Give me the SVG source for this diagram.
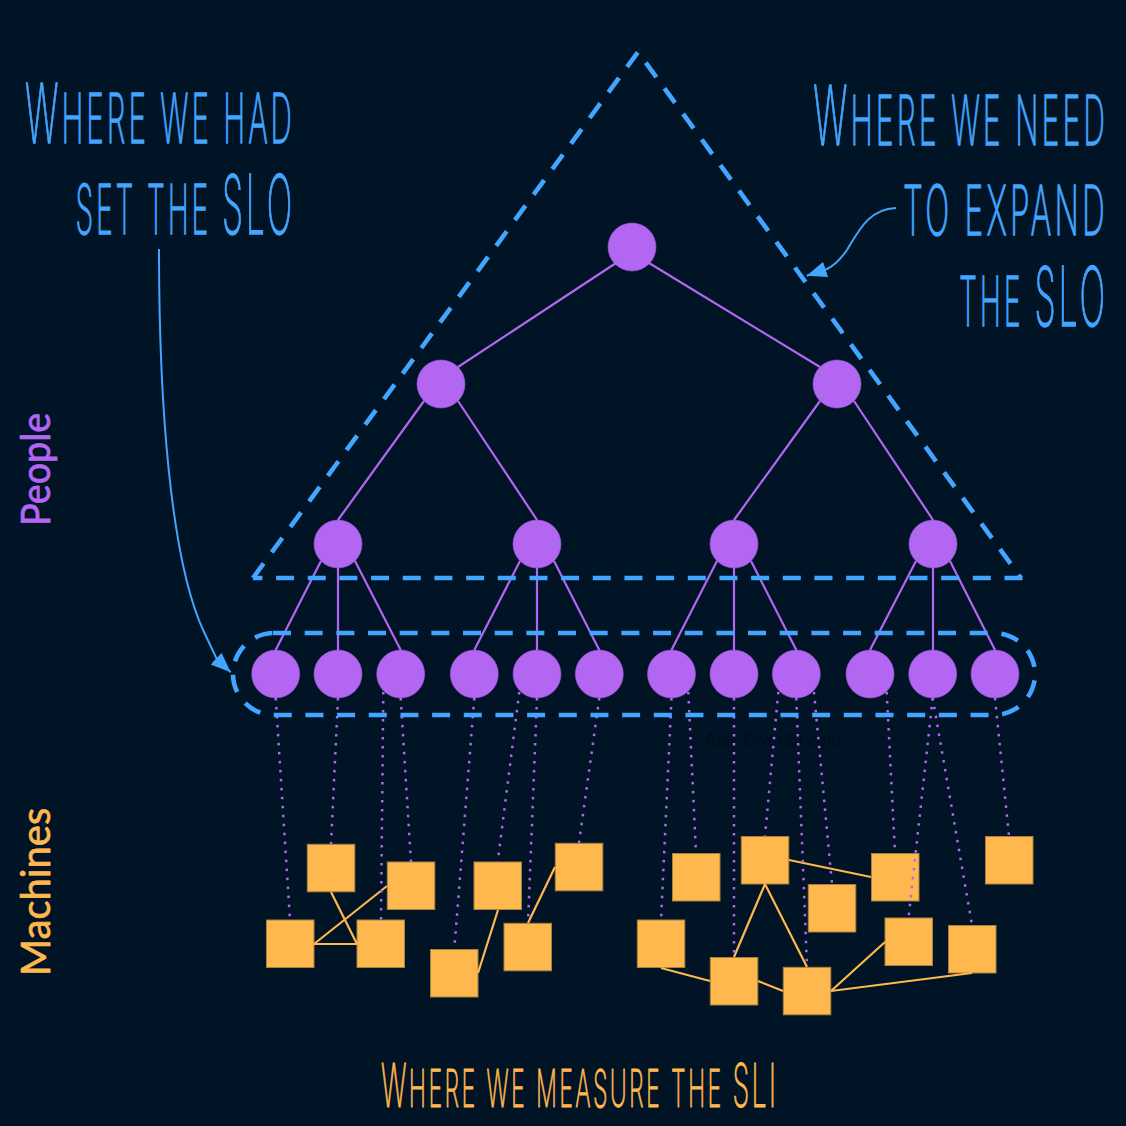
<svg xmlns="http://www.w3.org/2000/svg" width="1126" height="1126" viewBox="0 0 1126 1126">
<style>
.person{fill:#b266f2;stroke:#9a58d4;stroke-width:.6}
.machine{fill:#ffb84d;stroke:#a5823f;stroke-width:1}
.tree{stroke:#b266f2;stroke-width:2.2;fill:none}
.link{stroke:#ffb84d;stroke-width:2.2;fill:none}
.dot{stroke:#b266f2;stroke-width:2.5;stroke-dasharray:2.5 6.5;fill:none}
.dash{stroke:#42a5ff;stroke-width:4.6;stroke-dasharray:18 13.67;fill:none;stroke-linejoin:round}
.pointer{stroke:#42a5ff;stroke-width:2;fill:none;marker-end:url(#head)}
.hand{font-family:"Inter","Liberation Sans",sans-serif;font-weight:200;text-transform:uppercase;letter-spacing:.1em;stroke-width:1.3}
.big{font-size:82px}
.small{font-size:69px}
.goldsize{font-size:52px}
.goldbig{font-size:60px}
.blue{fill:#42a5ff;stroke:#42a5ff}
.gold{fill:#ffb84d;stroke:#ffb84d}
.side{font-family:"Lato","Liberation Sans",sans-serif;font-size:40px;stroke-width:.7}
</style>
<defs>
<marker id="head" markerUnits="userSpaceOnUse" markerWidth="21" markerHeight="17" refX="20" refY="8" orient="auto"><path d="M0,0L20,8L0,16Z" fill="#42a5ff"/></marker>
</defs>
<rect id="background" width="1126" height="1126" fill="#011426"/>
<text id="watermark" x="704" y="746" font-family="Lato,'Liberation Sans',sans-serif" font-size="18" fill="#000d1c">Alex Ewerlöf.com</text>

<g id="nodes-people">
<circle id="p1" class="person" cx="632" cy="247" r="24"/>
<circle id="p2" class="person" cx="441" cy="384" r="24"/>
<circle id="p3" class="person" cx="837" cy="384" r="24"/>
<circle id="p4" class="person" cx="338" cy="544" r="24"/>
<circle id="p5" class="person" cx="537" cy="544" r="24"/>
<circle id="p6" class="person" cx="734" cy="544" r="24"/>
<circle id="p7" class="person" cx="933" cy="544" r="24"/>
<circle id="p8" class="person" cx="275.7" cy="674" r="24"/>
<circle id="p9" class="person" cx="338" cy="674" r="24"/>
<circle id="p10" class="person" cx="400.7" cy="674" r="24"/>
<circle id="p11" class="person" cx="474.3" cy="674" r="24"/>
<circle id="p12" class="person" cx="537" cy="674" r="24"/>
<circle id="p13" class="person" cx="599.3" cy="674" r="24"/>
<circle id="p14" class="person" cx="671.5" cy="674" r="24"/>
<circle id="p15" class="person" cx="734" cy="674" r="24"/>
<circle id="p16" class="person" cx="796.3" cy="674" r="24"/>
<circle id="p17" class="person" cx="870" cy="674" r="24"/>
<circle id="p18" class="person" cx="932.7" cy="674" r="24"/>
<circle id="p19" class="person" cx="995" cy="674" r="24"/>
</g>

<g id="nodes-machines">
<rect id="m1" class="machine" x="266.5" y="920" width="47.5" height="47.5"/>
<rect id="m2" class="machine" x="307.3" y="844.3" width="47.5" height="47.5"/>
<rect id="m3" class="machine" x="387.3" y="862" width="47.5" height="47.5"/>
<rect id="m4" class="machine" x="357" y="920" width="47.5" height="47.5"/>
<rect id="m5" class="machine" x="430.5" y="949.5" width="47.5" height="47.5"/>
<rect id="m6" class="machine" x="474" y="862" width="47.5" height="47.5"/>
<rect id="m7" class="machine" x="504" y="923.3" width="47.5" height="47.5"/>
<rect id="m8" class="machine" x="555.3" y="843.3" width="47.5" height="47.5"/>
<rect id="m9" class="machine" x="637.3" y="920" width="47.5" height="47.5"/>
<rect id="m10" class="machine" x="672.5" y="853.5" width="47.5" height="47.5"/>
<rect id="m11" class="machine" x="741.3" y="836.5" width="47.5" height="47.5"/>
<rect id="m12" class="machine" x="710.3" y="957.5" width="47.5" height="47.5"/>
<rect id="m13" class="machine" x="783.3" y="967.3" width="47.5" height="47.5"/>
<rect id="m14" class="machine" x="808.3" y="884.5" width="47.5" height="47.5"/>
<rect id="m15" class="machine" x="871.5" y="853.5" width="47.5" height="47.5"/>
<rect id="m16" class="machine" x="885" y="918" width="47.5" height="47.5"/>
<rect id="m17" class="machine" x="948.5" y="925.5" width="47.5" height="47.5"/>
<rect id="m18" class="machine" x="985.5" y="836.5" width="47.5" height="47.5"/>
</g>

<g id="connectors">
<path class="tree" d="M616,263L458,367M649,263L820,367M424,401L338,520M458,401L537,520M820,401L734,520M854,401L933,520"/>
<path class="tree" d="M321,561L275.7,650M338,568V650M355,561L400.7,650M520,561L474.3,650M537,568V650M554,561L599.3,650M717,561L671.5,650M734,568V650M751,561L796.3,650M916,561L870,650M933,568V650M950,561L995,650"/>
<path class="link" d="M314,944L387,886M314,944H357M331,892L357,944M478,973L498,910M528,923L555,867M661,968L710,981M758,981L783,991M734,957L765,884L807,967M789,860L871,877M831,991L885,942M831,991L972,973"/>
<g class="dot">
<path d="M275.7,698L290,920"/>
<path d="M338,698L331,844"/>
<path d="M383.3,692L381,920"/>
<path d="M400.7,698L411,862"/>
<path d="M474.3,698L454.3,949"/>
<path d="M519.3,692L497.7,862"/>
<path d="M537,698L528,923"/>
<path d="M599.3,698L579,843"/>
<path d="M671.5,698L661,920"/>
<path d="M688.3,692L696,853"/>
<path d="M734,698V957"/>
<path d="M778.3,692L765,836"/>
<path d="M796.3,698L807,967"/>
<path d="M814,692L832,884"/>
<path d="M886.7,692L895,853"/>
<path d="M932.7,698L908.5,918"/>
<path d="M932.7,698L972,925"/>
<path d="M995,698L1009,836"/>
</g>
<path id="slo-triangle-sides" class="dash" d="M253,578L638,52L1021,578"/>
<path id="slo-triangle-base" class="dash" d="M1022.5,578H253"/>
<path id="sli-capsule" class="dash" d="M273,633H994A41,41 0 0 1 994,715H274A41,41 0 0 1 274,633"/>
<path id="pointer-left" class="pointer" d="M159,249C159,400 170,560 204,632L217,659.5L230.7,672.3"/>
<path id="pointer-right" class="pointer" d="M896,208C870,209 860,228 847,250C840,260 835,265 827,269L806.7,275.7"/>
</g>

<g id="labels">
<text class="hand blue small" transform="translate(25,143) scale(.431,1)"><tspan class="big">W</tspan>here we had</text>
<text class="hand blue small" text-anchor="end" transform="translate(295,234) scale(.412,1)">set the <tspan class="big">SLO</tspan></text>
<text class="hand blue small" text-anchor="end" transform="translate(1108,145) scale(.439,1)"><tspan class="big">W</tspan>here we need</text>
<text class="hand blue small" text-anchor="end" transform="translate(1108,235) scale(.461,1)">to expand</text>
<text class="hand blue small" text-anchor="end" transform="translate(1108,326) scale(.415,1)">the <tspan class="big">SLO</tspan></text>
<text class="hand gold goldsize" transform="translate(381,1107) scale(.449,1)" style="stroke-width:1"><tspan class="goldbig">W</tspan>here we measure the <tspan class="goldbig">SLI</tspan></text>
<text class="side" transform="translate(50,526) rotate(-90) scale(.945,1)" fill="#b266f2" stroke="#b266f2">People</text>
<text class="side" transform="translate(50,976) rotate(-90)" fill="#ffb84d" stroke="#ffb84d">Machines</text>
</g>
</svg>
